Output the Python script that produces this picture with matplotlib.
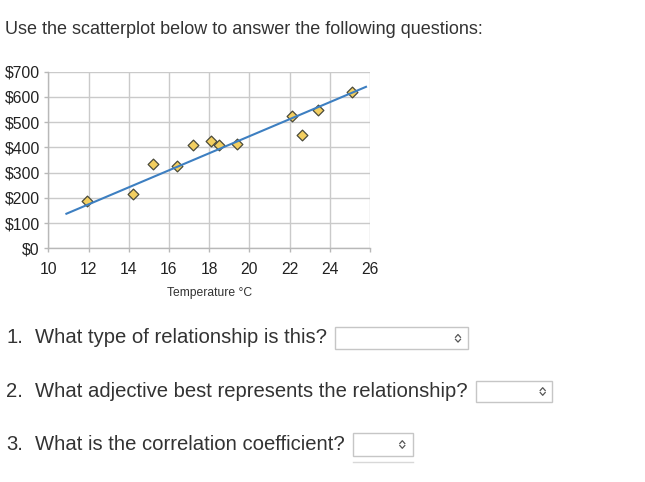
import numpy as np
import matplotlib
matplotlib.use("Agg")
import matplotlib.pyplot as plt
from matplotlib.lines import Line2D
from matplotlib.patches import Rectangle

# ---- data ----
temperature = [11.9, 14.2, 15.2, 16.4, 17.2, 18.1, 18.5, 19.4, 22.1, 22.6, 23.4, 25.1]
sales = [187, 216, 333, 327, 411, 424, 409, 413, 524, 448, 547, 619]
trend_x = [10.9, 25.8]
trend_y = [137, 640]
x_ticks = [10, 12, 14, 16, 18, 20, 22, 24, 26]
y_ticks = [0, 100, 200, 300, 400, 500, 600, 700]
y_tick_labels = ["$0", "$100", "$200", "$300", "$400", "$500", "$600", "$700"]
title_text = "Use the scatterplot below to answer the following questions:"
x_label = "Temperature °C"
questions = ["What type of relationship is this?",
             "What adjective best represents the relationship?",
             "What is the correlation coefficient?"]

W, H = 645, 482
fig = plt.figure(figsize=(W / 100, H / 100), dpi=100)
plt.rcParams['font.family'] = ['Liberation Sans', 'DejaVu Sans']

def fx(x):
    return x / W

def fy(y):
    return 1 - y / H

# axes placement (pixels)
L, R, T, B = 48.3, 370.0, 71.7, 248.3
ax = fig.add_axes([fx(L), fy(B), fx(R - L), (B - T) / H])
ax.set_xlim(10, 26)
ax.set_ylim(0, 700)
ax.set_xticks(x_ticks)
ax.set_yticks(y_ticks)
ax.set_yticklabels(y_tick_labels)
ax.grid(True, color="#cacaca", linewidth=1.0)
ax.set_axisbelow(True)
for s in ["top", "right"]:
    ax.spines[s].set_visible(False)
for s in ["left", "bottom"]:
    ax.spines[s].set_color("#b8b8b8")
    ax.spines[s].set_linewidth(1.0)
ax.tick_params(axis="both", colors="#b8b8b8", labelcolor="#222222",
               labelsize=11.3, length=3, width=1.0)
ax.tick_params(axis="x", pad=7)
ax.tick_params(axis="y", pad=3)

ax.scatter(temperature, sales, marker="D", s=30, facecolor="#f3cf60",
           edgecolor="#4a4a3a", linewidth=0.9, zorder=2)
ax.plot(trend_x, trend_y, color="#3d7fc1", linewidth=1.5, zorder=3)

ax.set_xlabel(x_label, fontsize=8.7, color="#333333", labelpad=7)

# title text
fig.text(fx(5), fy(34), title_text, fontsize=13, color="#333333",
         va="baseline", ha="left")

# questions
baselines = [343.3, 396.7, 450.0]
for i, (q, yb) in enumerate(zip(questions, baselines)):
    fig.text(fx(6), fy(yb), f"{i + 1}.", fontsize=14.6, color="#333333",
             va="baseline", ha="left")
    fig.text(fx(35), fy(yb), q, fontsize=14.6, color="#333333",
             va="baseline", ha="left")

# select boxes (decoration)
boxes = [(335.0, 327.3, 468.3, 349.3), (475.7, 380.7, 552.3, 402.3),
         (353.3, 433.3, 413.3, 455.7)]
icons = [(458.0, 338.3), (542.7, 391.5), (402.3, 444.5)]
for (x0, y0, x1, y1), (ix, iy) in zip(boxes, icons):
    fig.patches.append(Rectangle((fx(x0), fy(y1)), fx(x1 - x0), (y1 - y0) / H,
                                 transform=fig.transFigure, facecolor="white",
                                 edgecolor="#c6c6c6", linewidth=1.0))
    for sgn in (-1, 1):
        xs = [fx(ix - 2.5), fx(ix), fx(ix + 2.5)]
        ys = [fy(iy + sgn * 1.0), fy(iy + sgn * 3.8), fy(iy + sgn * 1.0)]
        fig.lines.append(Line2D(xs, ys, transform=fig.transFigure,
                                color="#555555", linewidth=0.9))
fig.lines.append(Line2D([fx(353.3), fx(413.3)], [fy(461.7), fy(461.7)],
                        transform=fig.transFigure, color="#d8d8d8", linewidth=1.0))

fig.savefig("out.png", dpi=100, facecolor="white")
